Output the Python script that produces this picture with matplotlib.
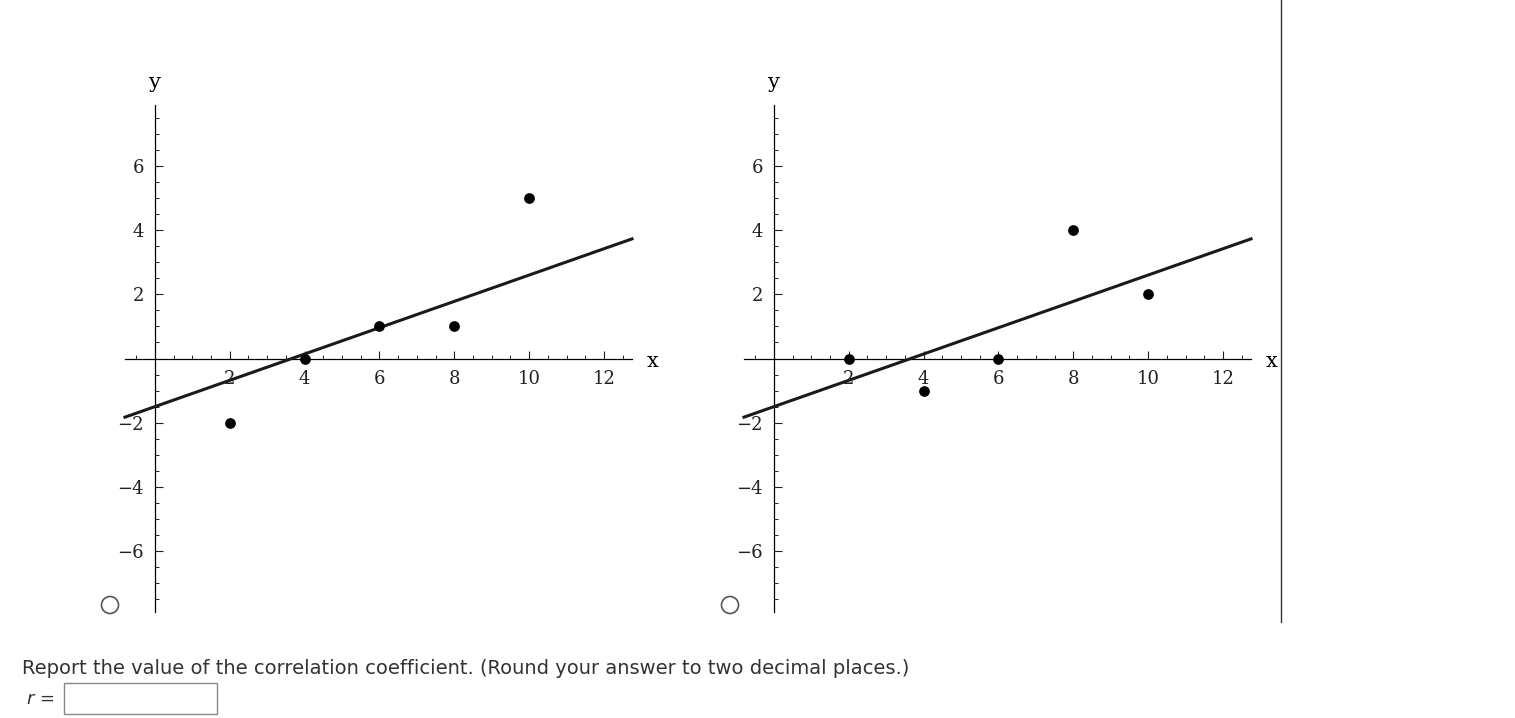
import matplotlib
matplotlib.use('Agg')
import matplotlib.pyplot as plt
from matplotlib.patches import Circle, Rectangle
from matplotlib.ticker import MultipleLocator

W, H = 1515, 718

# data
left_x = [2, 4, 6, 8, 10]
left_y = [-2, 0, 1, 1, 5]
right_x = [2, 4, 6, 8, 10]
right_y = [0, -1, 0, 4, 2]
line_slope, line_icpt = 0.41, -1.5
xticks = [2, 4, 6, 8, 10, 12]
yticks = [-6, -4, -2, 2, 4, 6]

fig = plt.figure(figsize=(W / 100, H / 100), dpi=100)
fig.patch.set_facecolor('white')
over = fig.add_axes([0, 0, 1, 1])
over.set_xlim(0, W)
over.set_ylim(H, 0)
over.axis('off')


def panel(px0, xs, ys):
    # px0 = pixel x of the left axes edge (x=-0.8)
    ax = fig.add_axes([px0 / W, (H - 612) / H, 507 / W, 507 / H])
    ax.set_xlim(-0.8, 12.75)
    ax.set_ylim(-7.9, 7.9)
    ax.patch.set_alpha(0)
    for s in ('top', 'right'):
        ax.spines[s].set_visible(False)
    ax.spines['left'].set_position(('data', 0))
    ax.spines['bottom'].set_position(('data', 0))
    for s in ('left', 'bottom'):
        ax.spines[s].set_linewidth(0.9)
    ax.set_xticks(xticks)
    ax.set_yticks(yticks)
    ax.xaxis.set_minor_locator(MultipleLocator(0.5))
    ax.yaxis.set_minor_locator(MultipleLocator(0.5))
    ax.tick_params(which='major', direction='in', length=6, width=0.8,
                   labelsize=13, colors='#222222', pad=8)
    ax.tick_params(which='minor', direction='in', length=3, width=0.6)
    for lab in ax.get_xticklabels() + ax.get_yticklabels():
        lab.set_family('DejaVu Serif')
    ax.set_yticklabels(['\u2212' + str(-t) if t < 0 else str(t) for t in yticks])
    lx = [-0.8, 12.75]
    ax.plot(lx, [line_slope * v + line_icpt for v in lx], color='#1a1a1a',
            lw=2.2, clip_on=False, zorder=3)
    ax.scatter(xs, ys, s=45, color='black', zorder=4, clip_on=False)
    ax.text(0, 8.3, 'y', ha='center', va='bottom', fontsize=15,
            family='DejaVu Serif', clip_on=False)
    ax.text(13.3, -0.1, 'x', ha='center', va='center', fontsize=15,
            family='DejaVu Serif', clip_on=False)
    return ax


panel(125, left_x, left_y)
panel(744, right_x, right_y)

# radio buttons
for cx in (110, 730):
    over.add_patch(Circle((cx, 605), 8.5, fc='white', ec='#555555', lw=1.2))

# divider
over.plot([1281, 1281], [0, 622], color='#333333', lw=1)

over.text(22, 669, 'Report the value of the correlation coefficient. '
          '(Round your answer to two decimal places.)',
          ha='left', va='center', fontsize=14, color='#333333',
          family='DejaVu Sans')
over.text(26, 699, '$r$ =', ha='left', va='center', fontsize=13,
          color='#333333')
over.add_patch(Rectangle((64, 683), 153, 31, fc='white', ec='#888888', lw=1))

fig.savefig('out.png', dpi=100, facecolor='white')
